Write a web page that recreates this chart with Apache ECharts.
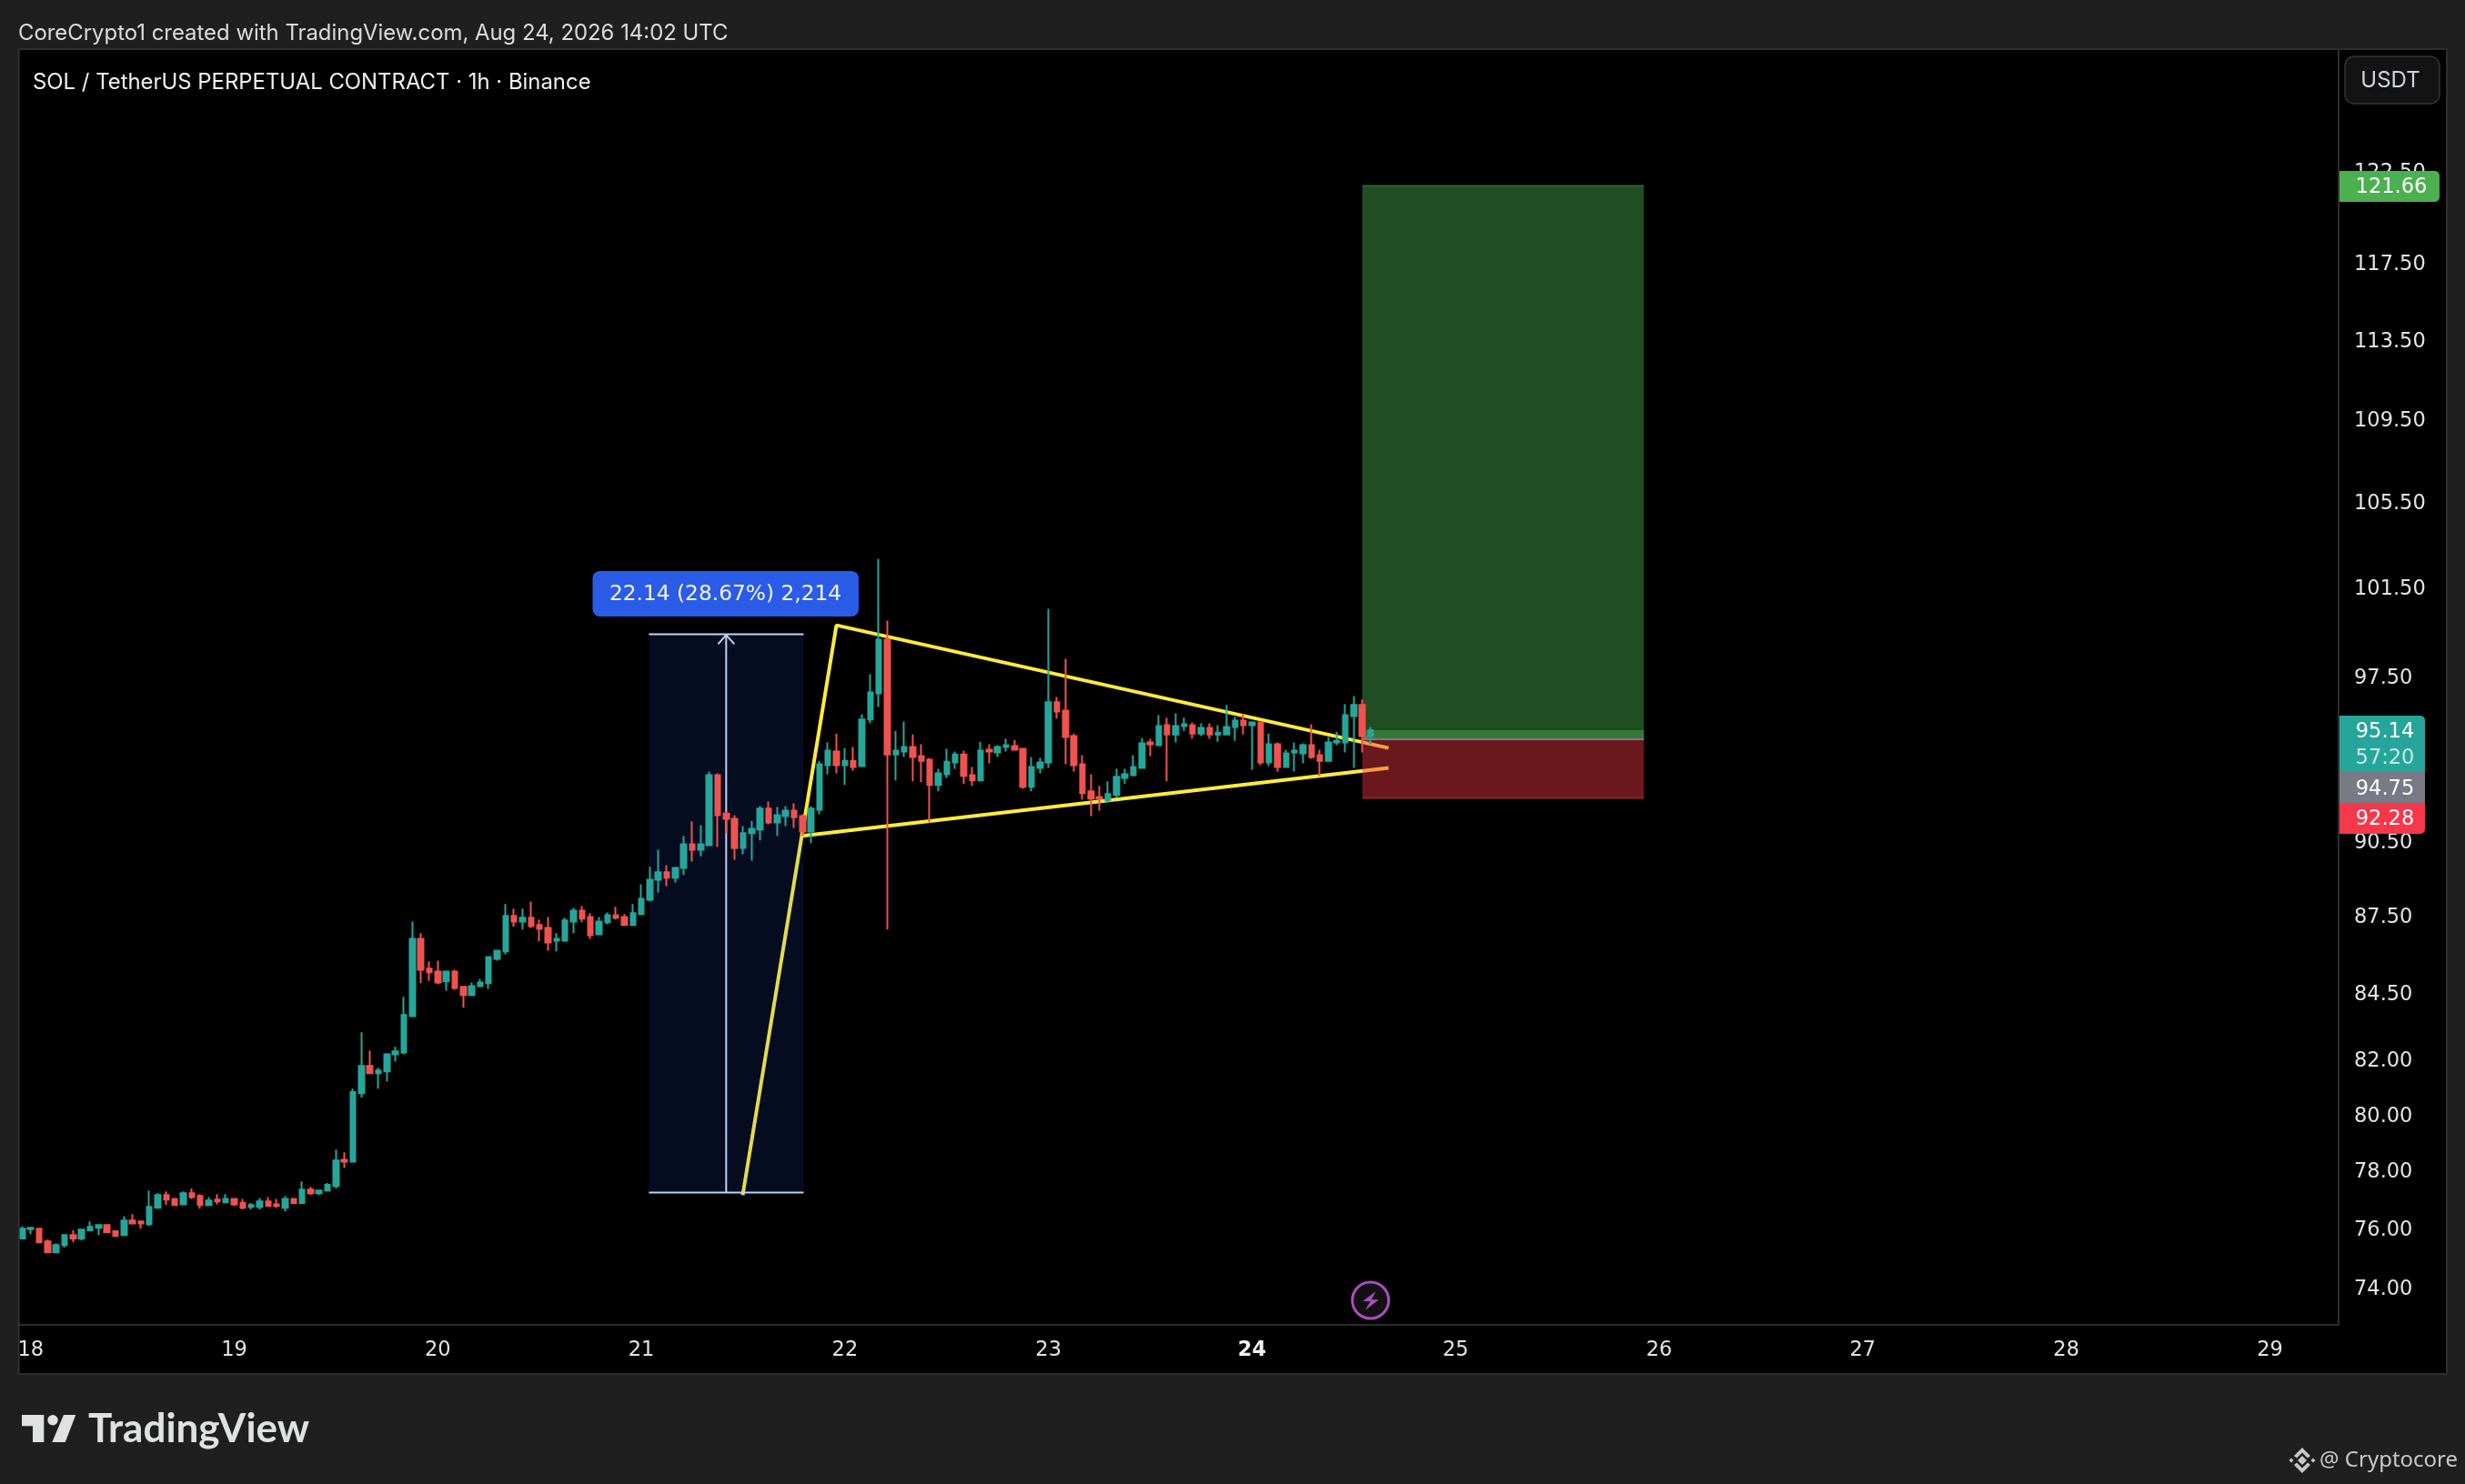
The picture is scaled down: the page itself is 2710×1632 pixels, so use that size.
<!DOCTYPE html>
<html><head><meta charset="utf-8">
<style>html,body{margin:0;padding:0;background:#1f1f1f}#c{width:2710px;height:1632px}</style>
<script src="https://cdn.jsdelivr.net/npm/echarts@6/dist/echarts.min.js"></script>
</head><body><div id="c"></div>
<script>
const firstHour = -1; // hours after Aug 18 00:00, hourly candles
const opens = [75.63,75.95,75.97,75.53,75.16,75.41,75.75,75.63,75.91,76.00,
76.09,75.88,75.75,76.25,76.22,76.12,76.69,77.13,77.00,76.81,
77.19,77.10,76.78,76.97,76.88,77.00,76.85,76.72,76.72,76.91,
76.81,76.69,77.00,76.85,77.32,77.19,77.29,77.45,78.37,78.30,
80.76,81.76,81.49,81.56,82.19,82.26,83.62,86.59,85.43,85.32,
84.94,85.32,84.73,84.42,84.76,84.87,85.81,86.10,87.49,87.27,
87.42,87.13,87.02,86.52,86.52,87.27,87.70,87.45,86.77,87.24,
87.52,87.45,87.13,87.56,88.13,88.93,89.23,89.01,89.41,90.37,
90.14,90.33,93.23,91.63,91.41,90.22,90.82,90.97,91.83,91.26,
91.52,91.75,91.52,90.89,91.79,93.65,94.23,93.65,93.84,93.61,
95.60,96.74,99.11,94.11,94.23,94.42,94.04,93.88,92.82,93.27,
93.77,94.11,93.23,93.01,94.31,94.19,94.42,94.46,94.35,92.74,
93.54,93.77,96.35,95.99,94.89,93.69,92.55,92.32,92.17,92.40,
93.12,93.23,93.54,94.62,94.50,95.36,94.96,95.32,95.36,95.00,
95.24,94.96,94.96,95.28,95.56,95.36,95.48,93.77,94.54,93.58,
94.19,94.15,94.50,94.08,93.84,94.62,94.62,95.75,96.23,94.89];
const closes = [75.97,76.00,75.50,75.16,75.41,75.75,75.63,75.94,76.03,76.09,
75.85,75.72,76.25,76.15,76.15,76.72,77.13,76.97,76.78,77.19,
77.06,76.78,76.94,76.91,77.00,76.81,76.69,76.78,76.91,76.75,
76.75,77.00,76.85,77.32,77.19,77.29,77.49,78.34,78.30,80.80,
81.76,81.49,81.59,82.19,82.30,83.66,86.59,85.39,85.29,84.90,
85.32,84.69,84.42,84.76,84.90,85.88,86.13,87.49,87.27,87.42,
87.09,86.98,86.45,86.59,87.31,87.70,87.38,86.73,87.27,87.52,
87.42,87.13,87.60,88.17,88.93,89.23,89.01,89.41,90.37,90.14,
90.37,93.23,91.56,91.41,90.22,90.82,91.00,91.83,91.26,91.56,
91.75,91.48,90.89,91.83,93.69,94.27,93.65,93.84,93.58,95.60,
96.78,99.11,94.11,94.27,94.42,94.00,93.84,92.82,93.31,93.80,
94.11,93.20,93.01,94.27,94.23,94.42,94.50,94.31,92.74,93.58,
93.77,96.35,95.95,94.85,93.65,92.48,92.25,92.25,92.44,93.16,
93.27,93.58,94.58,94.54,95.32,94.96,95.32,95.40,95.00,95.24,
94.96,95.04,95.28,95.56,95.36,95.48,93.77,94.54,93.58,94.15,
94.27,94.50,94.00,93.84,94.62,94.69,95.79,96.23,94.89,95.14];
const lows = [75.63,75.78,75.50,75.13,75.16,75.32,75.50,75.57,75.88,75.75,
75.81,75.72,75.75,76.15,75.97,76.06,76.69,76.78,76.78,76.81,
77.00,76.66,76.78,76.81,76.88,76.75,76.63,76.63,76.63,76.72,
76.69,76.56,76.85,76.85,77.13,77.13,77.29,77.36,78.08,78.27,
80.60,81.49,80.93,81.19,81.93,82.19,83.62,84.87,84.97,84.83,
84.59,84.62,83.94,84.38,84.76,84.66,85.74,85.99,87.06,86.95,
87.02,86.49,86.13,86.10,86.49,86.81,87.24,86.59,86.77,87.16,
87.35,87.13,87.13,87.52,88.06,88.42,88.68,88.82,89.12,89.66,
89.88,90.30,90.26,90.82,89.74,89.96,89.70,90.52,91.19,90.71,
91.11,91.04,90.71,90.41,91.60,93.27,93.31,92.82,93.42,93.61,
95.44,96.15,86.95,93.01,94.00,92.97,92.93,91.26,92.55,93.12,
93.50,92.86,92.78,93.01,93.73,94.00,94.23,94.27,92.66,92.55,
93.31,93.54,95.64,93.69,93.38,92.21,91.52,91.75,92.09,92.28,
92.86,93.23,93.50,94.04,94.50,92.97,94.62,95.12,94.77,94.89,
94.77,94.65,94.96,94.69,94.96,93.46,93.65,93.61,93.38,93.58,
93.38,93.73,93.92,93.20,93.80,94.50,94.19,93.54,94.19,94.54];
const highs = [76.05,76.00,76.00,75.60,75.47,75.75,75.91,75.97,76.22,76.12,
76.09,75.91,76.40,76.47,76.22,77.29,77.19,77.26,77.03,77.26,
77.36,77.16,77.06,77.16,77.16,77.03,77.00,76.85,77.03,77.06,
77.00,77.10,77.03,77.61,77.42,77.32,77.55,78.73,78.63,80.93,
83.01,82.33,81.69,82.23,82.47,84.35,87.27,86.81,85.71,85.74,
85.36,85.39,84.73,84.90,85.04,85.88,86.13,87.96,87.78,87.78,
88.06,87.35,87.45,86.81,87.42,87.81,87.88,87.60,87.45,87.63,
87.85,87.56,87.96,88.75,89.45,90.14,89.52,89.45,90.71,91.30,
91.15,93.38,93.31,91.71,91.56,91.11,91.33,91.94,92.13,91.90,
91.94,92.05,91.60,91.94,93.84,94.62,95.00,94.38,94.42,95.83,
97.58,102.79,99.97,95.12,95.52,94.96,94.54,93.96,93.50,94.35,
94.23,94.27,93.58,94.65,94.54,94.50,94.77,94.73,94.35,94.00,
93.96,100.50,96.58,98.26,95.00,94.08,93.27,92.78,92.97,93.50,
93.50,94.08,94.81,94.77,95.79,95.68,95.87,95.68,95.48,95.44,
95.44,95.36,96.23,95.71,95.83,95.52,95.52,95.00,94.62,94.31,
94.62,94.58,95.40,94.31,94.85,95.08,96.27,96.62,96.47,95.28];

const dayLabels = [18,19,20,21,22,23,24,25,26,27,28,29];
const priceTicks = [74,76,78,80,82,84.5,87.5,90.5,97.5,101.5,105.5,109.5,113.5,117.5,122.5];
// annotation values: [start hour, end hour, low price, high price]
const measureBox = [72.89, 91.13, 77.22, 99.36];
const measureMidHour = 82;
const targetZone = [157, 190.2, 94.75, 121.66];
const stopZone = [157, 190.2, 92.28, 94.75];
const liveZone = [157, 190.2, 94.75, 95.14];
const wedgeUpper = [[83.95,77.13],[95.0,99.76],[160.1,94.38]];
const wedgeLower = [[90.95,90.71],[160.1,93.54]];
const pathToLast = [[157.3,94.75],[158,95.05]];
const measureText = '22.14 (28.67%) 2,214';
const FONT = 'Inter';
const NUM = 'DejaVu Sans';

const candles = opens.map((o,i)=>[firstHour+i,o,closes[i],lows[i],highs[i]]);
const chart = echarts.init(document.getElementById('c'),null,{renderer:'canvas'});

function zoneRender(fills){
  return function(params,api){
    const a=api.coord([api.value(0),api.value(3)]), b=api.coord([api.value(1),api.value(2)]);
    return {type:'rect',shape:{x:a[0],y:a[1],width:b[0]-a[0],height:b[1]-a[1]},
      style:{fill:fills[params.dataIndex]}};
  };
}
const CH = {type:'custom',coordinateSystem:'cartesian2d',encode:{x:[0,1],y:[2,3]},silent:true,animation:false,clip:true};
const T = (text,x,y,extra)=>({type:'text',z:100,style:Object.assign({text,x,y,fill:'#fff',fontFamily:NUM,fontSize:22.5,textAlign:'center',textVerticalAlign:'middle'},extra||{})});
const R = (x,y,w,h,fill,r,extra)=>({type:'rect',z:90,shape:{x,y,width:w,height:h,r:r||0},style:Object.assign({fill},extra||{})});
const Strip = (x,y,w,h)=>({type:'rect',z:-1,shape:{x,y,width:w,height:h},style:{fill:'#000'}});

chart.setOption({
  backgroundColor:'#1f1f1f',
  animation:false,
  grid:{left:20.7,right:139,top:54,bottom:175,show:true,backgroundColor:'#000',borderWidth:0},
  xAxis:{type:'value',min:-1.394,max:272.1,
    axisLine:{show:true,onZero:false,lineStyle:{color:'#2e2e2e',width:2}},
    axisTick:{show:false},splitLine:{show:false},
    axisLabel:{customValues:dayLabels.map((d,i)=>i*24),margin:17,color:'#e3e3e3',fontFamily:NUM,fontSize:22.5,hideOverlap:false,showMinLabel:true,showMaxLabel:true,
      formatter:v=>{const d=18+Math.round(v/24);return d===24?'{b|24}':String(d);},
      rich:{b:{fontWeight:'bold',fontSize:22.5,fontFamily:NUM,color:'#f2f2f2'}}}},
  yAxis:{type:'log',logBase:10,position:'right',min:72.74,max:129.4,
    axisLine:{show:true,onZero:false,lineStyle:{color:'#2e2e2e',width:2}},
    axisTick:{show:false},splitLine:{show:false},minorTick:{show:false},minorSplitLine:{show:false},
    axisLabel:{customValues:priceTicks,margin:17,color:'#e3e3e3',fontFamily:NUM,fontSize:22.5,align:'left',hideOverlap:false,
      formatter:v=>'{p|'+Number(v).toFixed(2)+'}',
      rich:{p:{padding:[5,0,0,0],fontFamily:NUM,fontSize:22.5,color:'#e3e3e3'}}}},
  series:[
    {type:'line',z:2,data:wedgeUpper,symbol:'none',silent:true,lineStyle:{color:'#ffeb3b',width:4},clip:false},
    {type:'line',z:2,data:wedgeLower,symbol:'none',silent:true,lineStyle:{color:'#ffeb3b',width:4},clip:false},
    Object.assign({},CH,{z:3,data:[measureBox,targetZone,stopZone,liveZone],
      renderItem:zoneRender(['rgba(41,98,255,0.12)','rgba(76,175,80,0.44)','rgba(242,54,69,0.44)','rgba(76,175,80,0.45)'])}),
    Object.assign({},CH,{z:4,data:[measureBox],renderItem:(p,api)=>{
      const x1=api.value(0),x2=api.value(1),lo=api.value(2),hi=api.value(3);
      const a=api.coord([x1,hi]),b=api.coord([x2,lo]),m=api.coord([measureMidHour,hi]);
      const L=(x1,y1,x2,y2)=>({type:'line',shape:{x1,y1,x2,y2},style:{stroke:'#bfd3f7',lineWidth:2}});
      return {type:'group',children:[L(a[0],a[1],b[0],a[1]),L(a[0],b[1],b[0],b[1]),L(m[0],a[1],m[0],b[1]),
        L(m[0]-9,a[1]+11,m[0],a[1]+1),L(m[0],a[1]+1,m[0]+9,a[1]+11)]};
    }}),
    Object.assign({},CH,{z:4,data:[stopZone],renderItem:(p,api)=>{
      const x1=api.value(0),x2=api.value(1),lo=api.value(2),hi=api.value(3);
      const a=api.coord([x1,hi]),b=api.coord([x2,lo]);
      return {type:'group',children:[
        {type:'line',shape:{x1:a[0],y1:a[1],x2:b[0],y2:a[1]},style:{stroke:'#787b86',lineWidth:2}},
        {type:'line',shape:{x1:a[0],y1:b[1],x2:b[0],y2:b[1]},style:{stroke:'#8f2129',lineWidth:2}}]};
    }}),
    Object.assign({},CH,{z:4,data:[targetZone],renderItem:(p,api)=>{
      const a=api.coord([api.value(0),api.value(3)]),b=api.coord([api.value(1),api.value(3)]);
      return {type:'line',shape:{x1:a[0],y1:a[1],x2:b[0],y2:a[1]},style:{stroke:'#2f6e33',lineWidth:1.5}};
    }}),
    {type:'line',z:4,data:pathToLast,symbol:'none',silent:true,lineStyle:{color:'#787b86',width:2}},
    {type:'candlestick',z:6,silent:true,data:candles,encode:{x:0,y:[1,2,3,4]},barWidth:6,
      itemStyle:{color:'#26a69a',color0:'#ef5350',borderColor:'#26a69a',borderColor0:'#ef5350',borderWidth:2}}
  ],
  graphic:{elements:[
    // outer frame strips behind the axis labels
    Strip(2571,54,119,1403),
    Strip(20.7,1457,2669.3,54),
    {type:'line',z:91,shape:{x1:20.7,y1:1511,x2:2690,y2:1511},style:{stroke:'#2e2e2e',lineWidth:2}},
    {type:'line',z:91,shape:{x1:20.7,y1:54,x2:2690,y2:54},style:{stroke:'#2e2e2e',lineWidth:2}},
    {type:'line',z:91,shape:{x1:20.7,y1:54,x2:20.7,y2:1511},style:{stroke:'#2e2e2e',lineWidth:2}},
    {type:'line',z:91,shape:{x1:2690,y1:54,x2:2690,y2:1511},style:{stroke:'#2e2e2e',lineWidth:2}},
    T('CoreCrypto1 created with TradingView.com, Aug 24, 2026 14:02 UTC',20,36.5,{textAlign:'left',fill:'#dcdcdc',fontSize:23.9,fontFamily:FONT}),
    T('SOL / TetherUS PERPETUAL CONTRACT · 1h · Binance',36,90.5,{textAlign:'left',fill:'#f0f0f0',fontSize:23.9,fontFamily:FONT}),
    // unit button
    R(2578,62,104,52,'#131313',10,{stroke:'#333',lineWidth:1.5}),
    T('USDT',2628,89,{fill:'#d1d4dc',fontSize:24,fontFamily:FONT}),
    // price badges
    R(2572,188,110,34,'#4caf50',[0,5,5,0]),
    T('121.66',2629,206),
    R(2572,787,94,62,'#26a69a',[0,5,0,0]),
    T('95.14',2622,805),
    T('57:20',2622,834,{fill:'#c9e8e5'}),
    R(2572,849,94,34,'#787b86'),
    T('94.75',2622,868),
    R(2572,883,94,34,'#f7384a',[0,0,5,0]),
    T('92.28',2622,901.5),
    // measure label
    R(651.5,628,292.5,50,'#2a5ce8',8),
    T(measureText,797.5,654,{fill:'#f0f3fa',fontSize:23.3}),
    // lightning icon
    {type:'circle',z:92,shape:{cx:1506.7,cy:1430,r:20},style:{fill:'#111',stroke:'#a94dbf',lineWidth:3}},
    {type:'polygon',z:93,shape:{points:[[1512.7,1420],[1498.3,1431],[1506.7,1431],[1500.7,1441],[1516,1429.3],[1507.7,1429.3]]},style:{fill:'#a94dbf'}},
    // TradingView logo
    {type:'polygon',z:93,shape:{points:[[24,1556],[48.3,1556],[48.3,1586],[36,1586],[36,1568.3],[24,1568.3]]},style:{fill:'#e0e1e1'}},
    {type:'circle',z:93,shape:{cx:58,cy:1561.7,r:5.7},style:{fill:'#e0e1e1'}},
    {type:'polygon',z:93,shape:{points:[[70,1556],[83.3,1556],[71.7,1586],[57.3,1586]]},style:{fill:'#e0e1e1'}},
    T('TradingView',97,1572,{textAlign:'left',fill:'#e0e1e1',fontSize:44,fontWeight:700,fontFamily:'Lato'}),
    // source mark
    {type:'polygon',z:93,shape:{points:[[2531,1601],[2536,1606],[2531,1611],[2526,1606]]},style:{fill:'#c8c8c8'}},
    {type:'polygon',z:93,shape:{points:[[2519,1603.5],[2521.5,1606],[2519,1608.5],[2516.5,1606]]},style:{fill:'#c8c8c8'}},
    {type:'polygon',z:93,shape:{points:[[2543,1603.5],[2545.5,1606],[2543,1608.5],[2540.5,1606]]},style:{fill:'#c8c8c8'}},
    {type:'polygon',z:93,shape:{points:[[2531,1592],[2540,1601],[2537,1603.5],[2531,1597.5],[2525,1603.5],[2522,1601]]},style:{fill:'#c8c8c8'}},
    {type:'polygon',z:93,shape:{points:[[2531,1620],[2540,1611],[2537,1608.5],[2531,1614.5],[2525,1608.5],[2522,1611]]},style:{fill:'#c8c8c8'}},
    T('@ Cryptocore',2550,1606,{textAlign:'left',fill:'#c8c8c8',fontSize:24,fontFamily:'Noto Sans'})
  ]}
});
</script></body></html>
